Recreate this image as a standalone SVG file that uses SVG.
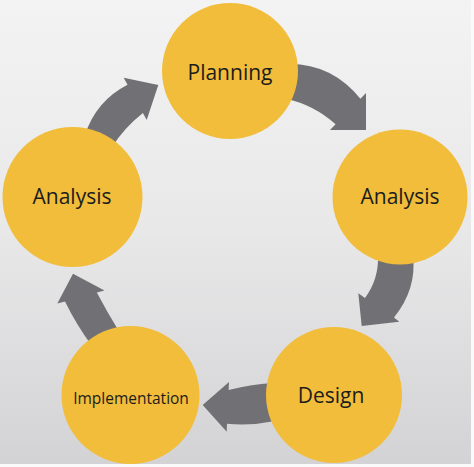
<svg xmlns="http://www.w3.org/2000/svg" width="474" height="467" viewBox="0 0 474 467">
<defs>
<linearGradient id="bg" x1="0" y1="0" x2="0" y2="1">
<stop offset="0" stop-color="#f3f3f3"/>
<stop offset="0.5" stop-color="#e8e8e9"/>
<stop offset="1" stop-color="#d3d3d5"/>
</linearGradient>
<style>
.arrow{fill:#717175;}
.node circle{fill:#f1bd3b;}
.node text{font-family:"Open Sans","Noto Sans",sans-serif;fill:#1c1c1c;text-anchor:middle;font-size:21px;}
.node text.small{font-size:15.5px;}
</style>
</defs>
<rect x="0" y="0" width="474" height="467" fill="#fafafa"/>
<rect x="0" y="0" width="471" height="464" fill="url(#bg)"/>
<g id="connectors">
<path class="arrow" d="M290,64 Q332,64 360.4,98.7 L366,93 L366,130 L330,130 L335.6,124.3 Q314,105 287,99 Z"/>
<path class="arrow" d="M413,255 Q417,289 394,317.5 L399.3,321.7 L361.7,326 L358.3,293.3 L365,298 Q379,279 378,255 Z"/>
<path class="arrow" d="M275,383 Q252,384 228.6,390 L229,382 L202.7,405 L226.7,431.7 L227,423.7 Q251,426 275,421 Z"/>
<path class="arrow" d="M120,333 Q107,312 96.8,292.6 L104.5,290.5 L73,273.7 L57.3,303.5 L65,301.4 Q76,324 92,346 Z"/>
<path class="arrow" d="M85,135 Q96,101 127.5,84.8 L123.7,77.8 L158.3,85 L146.7,120 L142.9,113 Q124.5,127.5 112,147 Z"/>
</g>
<g id="planning" class="node"><circle cx="230" cy="71" r="68"/><text x="230" y="80">Planning</text></g>
<g id="analysis-right" class="node"><circle cx="400" cy="197" r="67.5"/><text x="400" y="204">Analysis</text></g>
<g id="design" class="node"><circle cx="334" cy="395" r="68"/><text x="331" y="403">Design</text></g>
<g id="implementation" class="node"><circle cx="130.5" cy="395" r="69"/><text class="small" x="131" y="404">Implementation</text></g>
<g id="analysis-left" class="node"><circle cx="72.5" cy="197" r="70"/><text x="72" y="204">Analysis</text></g>
</svg>
